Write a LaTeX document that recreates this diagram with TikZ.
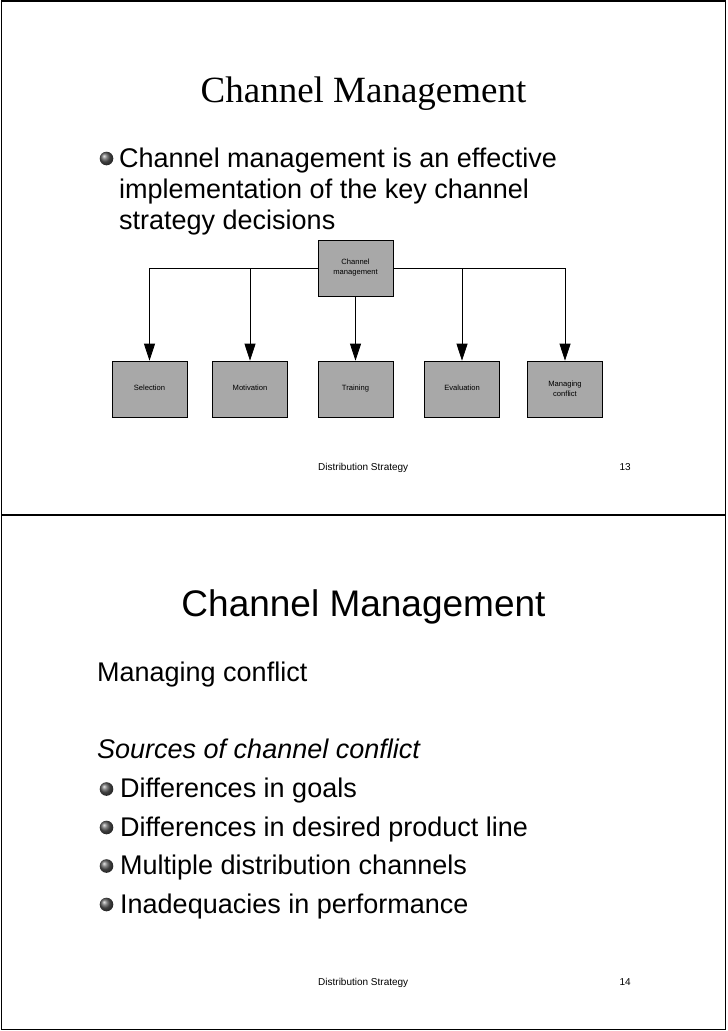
\documentclass[tikz,border=0pt]{standalone}
\usepackage{fontspec}
\setmainfont{Liberation Sans}
\newfontfamily\seriftitle{Liberation Serif}
\usetikzlibrary{arrows.meta}
\definecolor{boxgray}{HTML}{A8A8A8}
\begin{document}
\begin{tikzpicture}[x=1pt,y=-1pt,
  txt/.style={anchor=base west, inner sep=0pt, font=\fontsize{27}{29}\selectfont},
  box/.style={draw=black, line width=0.7pt, fill=boxgray, minimum width=75pt, minimum height=56pt, inner sep=0pt, align=center, font=\fontsize{7.6}{10}\selectfont},
  oneline/.style={text height=5.5pt, text depth=1.6pt},
  conn/.style={line width=0.8pt, -{Triangle[length=17pt,width=11pt]}},
  foot/.style={inner sep=0pt, font=\fontsize{10}{12}\selectfont},
  frame/.style={line width=1.5pt},
  bulletball/.style={ball color=gray!70!black}]
\useasboundingbox (0,0) rectangle (728,1031);
% frames
\draw[frame] (1.5,1) rectangle (725.5,1029.5);
\draw[frame] (1.5,515) -- (725.5,515);

% ---------- slide 13 ----------
\node[anchor=base, inner sep=0pt, font=\seriftitle\fontsize{37}{40}\selectfont] (t1) at (363.5,102) {Channel Management};
\shade[bulletball] (106.5,158.5) circle (6.8pt);
\node[txt] (b1a) at (119,167) {Channel management is an effective};
\node[txt] (b1b) at (119,198) {implementation of the key channel};
\node[txt] (b1c) at (119,229) {strategy decisions};

\node[box] (top) at (355.5,268) {Channel\\management};
\node[box, oneline] (sel) at (149.5,389) {Selection};
\node[box, oneline] (mot) at (250,389) {Motivation};
\node[box, oneline] (tra) at (355.5,389) {Training};
\node[box, oneline] (eva) at (462,389) {Evaluation};
\node[box] (man) at (565,389) {Managing\\conflict};

\draw[conn] (top.west) -| (sel.north);
\draw[conn] (top.west) -| (mot.north);
\draw[conn] (top.south) -- (tra.north);
\draw[conn] (top.east) -| (eva.north);
\draw[conn] (top.east) -| (man.north);

\node[foot, anchor=base west] (f1) at (318,470.5) {Distribution Strategy};
\node[foot, anchor=base east] (p1) at (631,470.5) {13};

% ---------- slide 14 ----------
\node[anchor=base, inner sep=0pt, font=\fontsize{37}{40}\selectfont] (t2) at (363.5,616) {Channel Management};
\node[txt] (mc) at (97,681) {Managing conflict};
\node[txt, font=\fontsize{27}{29}\selectfont\itshape] (src) at (97,758) {Sources of channel conflict};
\shade[bulletball] (106.5,789) circle (6.8pt);
\node[txt] (s1) at (120,797.5) {Differences in goals};
\shade[bulletball] (106.5,827.5) circle (6.8pt);
\node[txt] (s2) at (120,836) {Differences in desired product line};
\shade[bulletball] (106.5,866) circle (6.8pt);
\node[txt] (s3) at (120,874.5) {Multiple distribution channels};
\shade[bulletball] (106.5,904.5) circle (6.8pt);
\node[txt] (s4) at (120,913) {Inadequacies in performance};

\node[foot, anchor=base west] (f2) at (318,985.5) {Distribution Strategy};
\node[foot, anchor=base east] (p2) at (631,985.5) {14};
\end{tikzpicture}
\end{document}
